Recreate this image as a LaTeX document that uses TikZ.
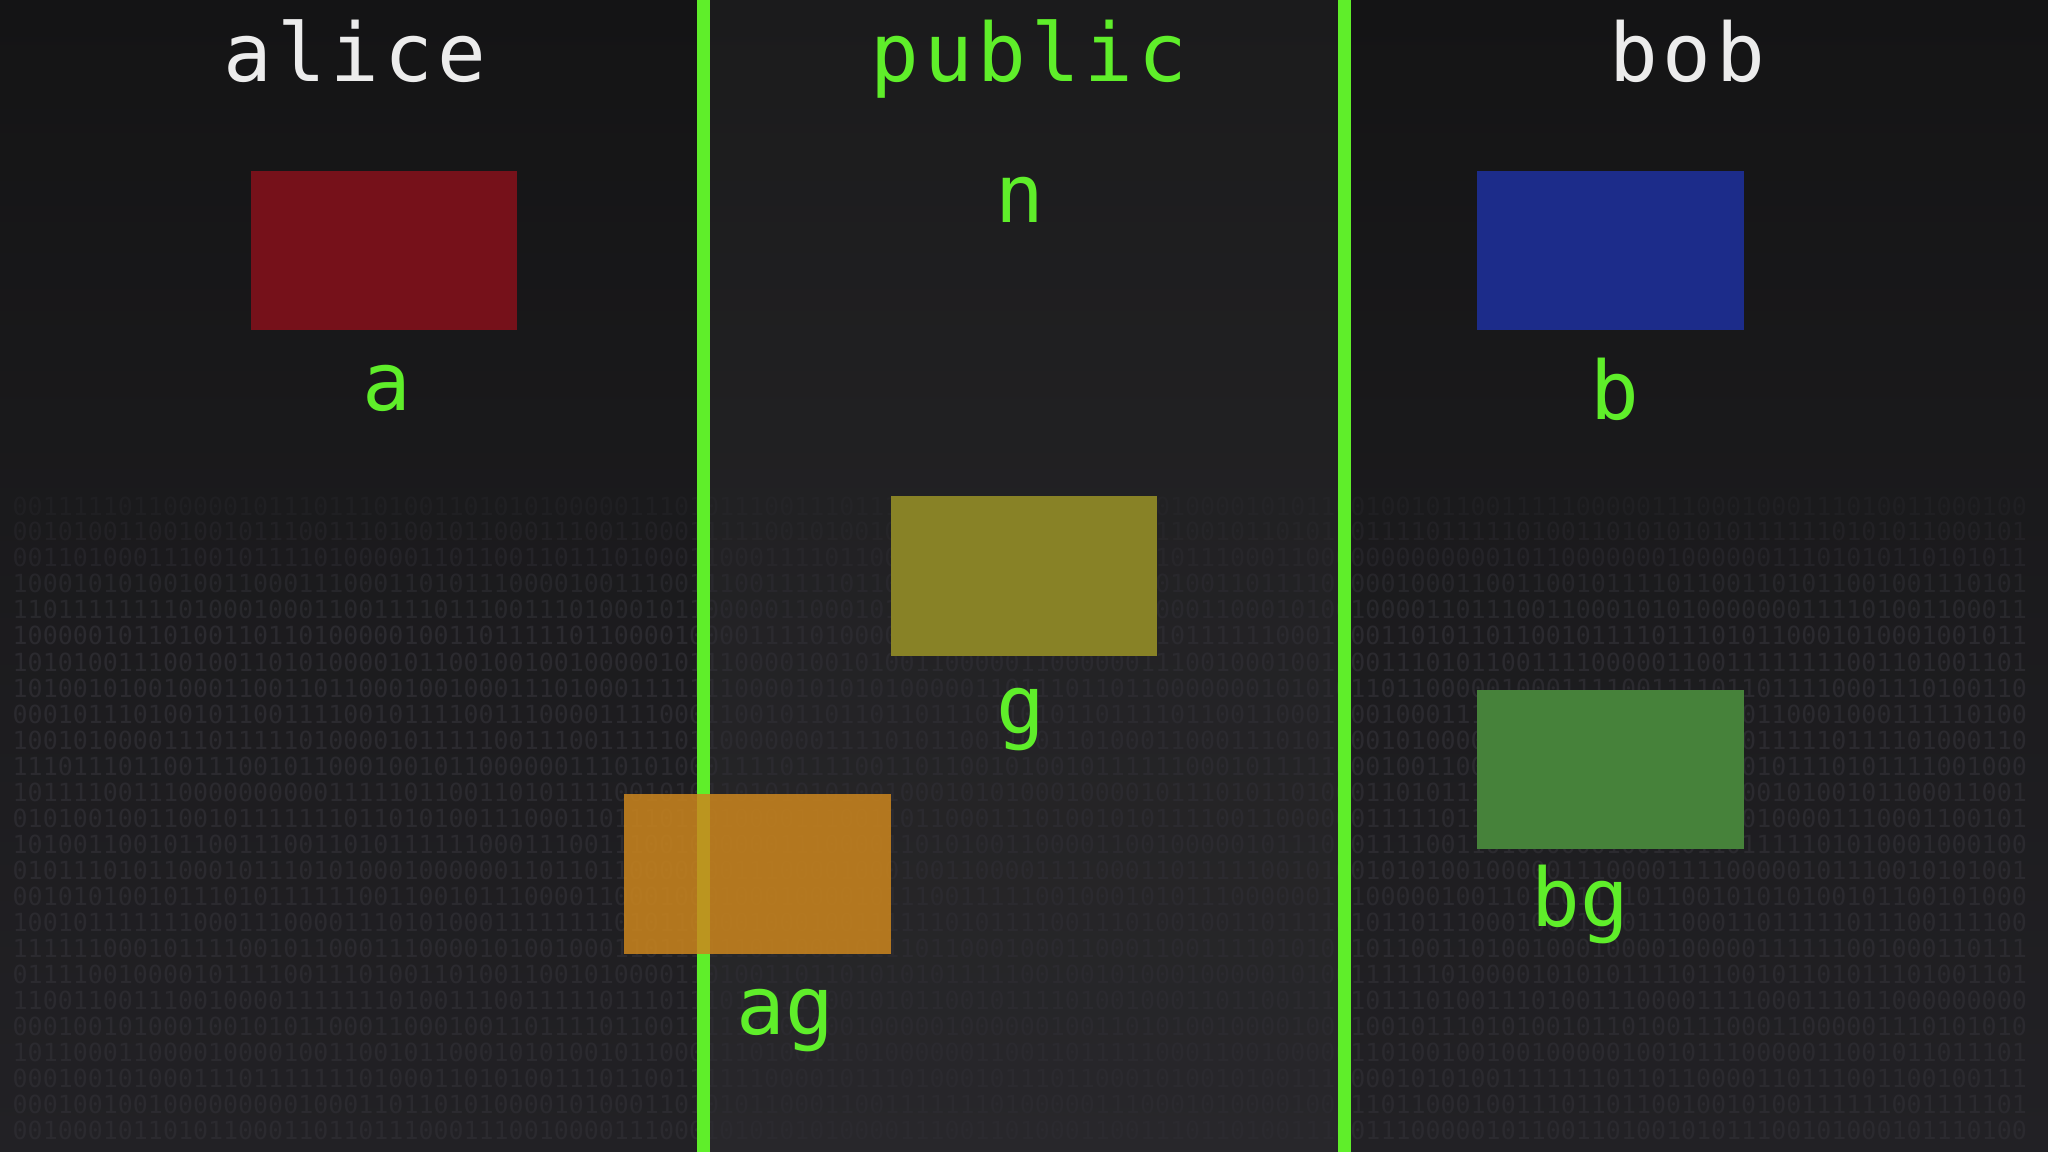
\documentclass[tikz,border=0pt]{standalone}
\usepackage{fontspec}
\setmonofont{DejaVu Sans Mono}
\newfontfamily\headfont[LetterSpace=6]{DejaVu Sans Mono}
\usepackage{tikz}
\usetikzlibrary{positioning}
\definecolor{termgreen}{RGB}{95,238,42}
\definecolor{termwhite}{RGB}{236,236,236}
\definecolor{bgtop}{RGB}{20,20,21}
\definecolor{bgbottom}{RGB}{34,33,37}
\definecolor{bitgray}{RGB}{43,42,47}
\definecolor{alicered}{RGB}{118,17,26}
\definecolor{bobblue}{RGB}{28,44,138}
\definecolor{baseolive}{RGB}{136,130,38}
\definecolor{mixgreen}{RGB}{70,130,58}
\definecolor{mixorange}{RGB}{204,134,30}
\tikzset{key box/.style={rectangle,inner sep=0pt,minimum width=2.66cm,minimum height=1.59cm},
head label/.style={font=\headfont\fontsize{23}{23}\selectfont,anchor=base,inner sep=0pt},
var label/.style={font=\ttfamily\fontsize{23}{23}\selectfont,text=termgreen,inner sep=0pt,text height=0.62cm,text depth=0pt},
bit row/.style={font=\ttfamily\fontsize{7.1}{7.1}\selectfont,text=bitgray,anchor=base west,inner sep=0pt},
divider/.style={termgreen,line width=0.13cm},}

\begin{document}
\begin{tikzpicture}[x=0.01cm, y=-0.01cm, node distance=0.2cm]
	\useasboundingbox (0,0) rectangle (2048,1152);
	\shade[top color=bgtop, bottom color=bgbottom] (0,0) rectangle (2048,1152);
	\fill[white, opacity=0.03] (703,0) rectangle (1344,1152);

	% faint binary texture
	\pgfmathsetseed{42}
	\foreach \r in {0,...,24}{
		\gdef\bitstr{}
		\foreach \k in {1,...,134}{\pgfmathrandominteger{\onebit}{0}{1}\xdef\bitstr{\bitstr\onebit}}
		\pgfmathsetmacro\rowy{515+26*\r}
		\pgfmathsetmacro\rowop{min(1,0.35+0.13*\r)}
		\node[bit row, opacity=\rowop] (bits\r) at (12,\rowy) {\bitstr};
	}

	\coordinate (lefttop) at (703.5,0);
	\coordinate (leftbot) at (703.5,1152);
	\coordinate (righttop) at (1344,0);
	\coordinate (rightbot) at (1344,1152);
	\draw[divider] (lefttop) -- (leftbot);
	\draw[divider] (righttop) -- (rightbot);

	\node[head label, text=termwhite] (alice) at (355,82) {alice};
	\node[head label, text=termgreen] (public) at (1029,82) {public};
	\node[head label, text=termwhite] (bob) at (1687,82) {bob};

	\node[key box, fill=alicered] (ka) at (384,250.5) {};
	\node[key box, fill=bobblue] (kb) at (1610.5,250.5) {};
	\node[key box, fill=baseolive] (kg) at (1024,576) {};
	\node[key box, fill=mixgreen] (kbg) at (1610.5,769.5) {};
	\node[key box, fill=mixorange, fill opacity=0.85] (kag) at (757.5,874) {};

	\node[var label, anchor=base] (n) at (1020,223) {n};
	\node[var label] (a) [below = 0.17cm of ka, xshift=0.03cm] {a};
	\node[var label] (b) [below = 0.26cm of kb, xshift=0.045cm] {b};
	\node[var label] (g) [below = 0.15cm of kg, xshift=-0.03cm] {g};
	\node[var label] (bg) [below = 0.14cm of kbg, xshift=-0.3cm] {bg};
	\node[var label] (ag) [below = 0.17cm of kag, xshift=0.28cm] {ag};
\end{tikzpicture}
\end{document}
